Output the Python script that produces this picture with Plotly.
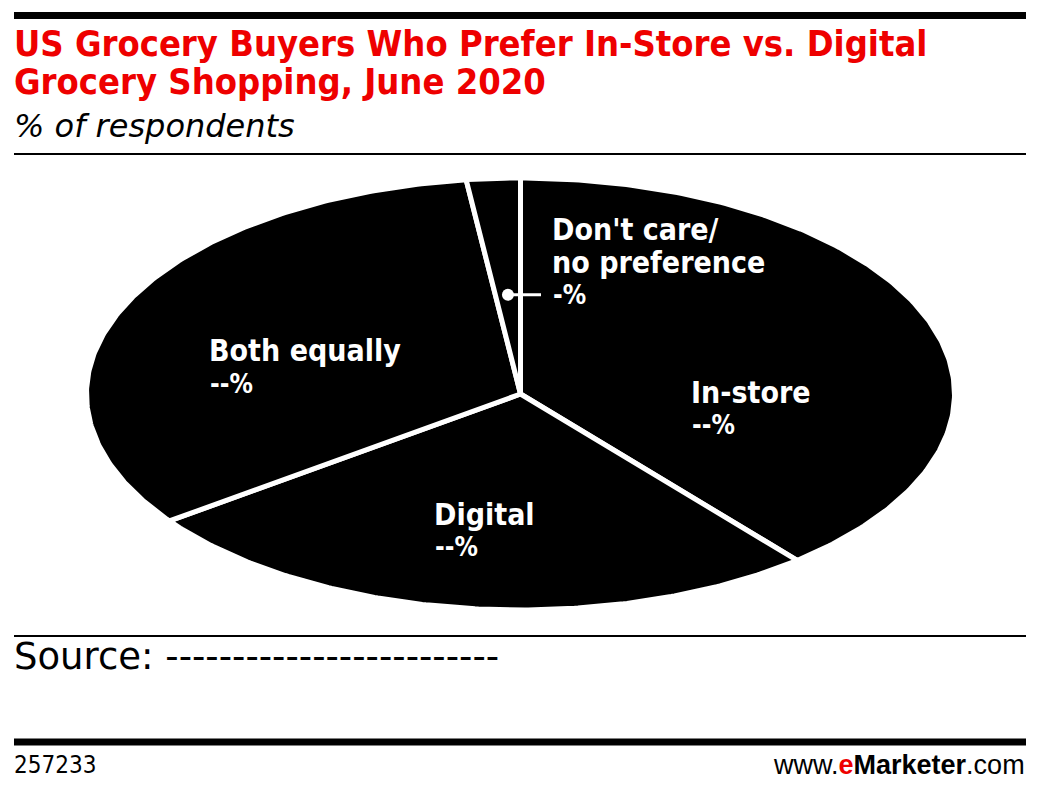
import numpy as np
import plotly.graph_objects as go

# ---- data ----
categories = ["In-store", "Digital", "Both equally", "Don't care/\nno preference"]
values = [39, 26, 33, 2]
value_labels = ["--%", "--%", "--%", "-%"]

title_lines = ["US Grocery Buyers Who Prefer In-Store vs. Digital",
               "Grocery Shopping, June 2020"]
subtitle = "% of respondents"
source = "Source: " + "-" * 25
chart_id = "257233"

W, H = 1039, 791
FONT_C = "DejaVu Sans Condensed, DejaVu Sans"
FONT = "DejaVu Sans"

# pixel geometry of the ellipse
cx, cy = 520.5, 394.0
rx, ry = 434.0, 216.0

# axis ranges so that data unit circle maps onto the ellipse
x0 = -cx / rx
x1 = x0 + W / rx
y1 = cy / ry
y0 = y1 - H / ry


def px(x):
    return x / W


def py(y):
    return 1 - y / H


fig = go.Figure()

total = sum(values)
start = 0.0
mids = []
for cat, v in zip(categories, values):
    ang = v / total * 2 * np.pi
    th = np.linspace(start, start + ang, 200)
    xs = np.concatenate([[0], np.sin(th), [0]])
    ys = np.concatenate([[0], np.cos(th), [0]])
    fig.add_trace(go.Scatter(x=xs, y=ys, fill="toself", fillcolor="black",
                             mode="lines", line=dict(color="white", width=5),
                             name=cat.replace("\n", " "), hoverinfo="name"))
    mids.append(start + ang / 2)
    start += ang

# callout for the small slice
m = mids[3]
r = 0.46
dx, dy = r * np.sin(m), r * np.cos(m)
end_x = (541 - cx) / rx
fig.add_trace(go.Scatter(x=[dx, end_x], y=[dy, dy], mode="lines",
                         line=dict(color="white", width=3), hoverinfo="skip"))
fig.add_trace(go.Scatter(x=[dx], y=[dy], mode="markers",
                         marker=dict(color="white", size=12), hoverinfo="skip"))

annotations = []

# slice labels (pixel positions of label blocks: left x, middle of first line)
label_pos = [(689, 392), (432, 514), (207, 351), (550, 229)]
line_gap = 33
for cat, val, (lx, ly) in zip(categories, value_labels, label_pos):
    lines = cat.split("\n")
    for i, t in enumerate(lines):
        annotations.append(dict(x=px(lx), y=py(ly + i * line_gap), xref="paper", yref="paper",
                                text=f"<b>{t}</b>", showarrow=False, xanchor="left", yanchor="middle",
                                font=dict(family=FONT_C, size=30, color="white")))
    annotations.append(dict(x=px(lx + 1), y=py(ly + len(lines) * line_gap), xref="paper", yref="paper",
                            text=f"<b>{val}</b>", showarrow=False, xanchor="left", yanchor="middle",
                            font=dict(family=FONT_C, size=26, color="white")))

# titles
for i, t in enumerate(title_lines):
    annotations.append(dict(x=px(12), y=py(44 + i * 37), xref="paper", yref="paper",
                            text=f"<b>{t}</b>", showarrow=False, xanchor="left", yanchor="middle",
                            font=dict(family=FONT_C, size=36, color="#ee0000")))
annotations.append(dict(x=px(12), y=py(126), xref="paper", yref="paper",
                        text=f"<i>{subtitle}</i>", showarrow=False, xanchor="left", yanchor="middle",
                        font=dict(family=FONT, size=32, color="black")))
annotations.append(dict(x=px(12), y=py(656), xref="paper", yref="paper",
                        text=source, showarrow=False, xanchor="left", yanchor="middle",
                        font=dict(family=FONT, size=37, color="black")))
annotations.append(dict(x=px(12), y=py(765), xref="paper", yref="paper",
                        text=chart_id, showarrow=False, xanchor="left", yanchor="middle",
                        font=dict(family=FONT_C, size=24, color="black")))
annotations.append(dict(x=px(1027), y=py(765), xref="paper", yref="paper",
                        text="www.<b><span style='color:#ee0000'>e</span>Marketer</b>.com",
                        showarrow=False, xanchor="right", yanchor="middle",
                        font=dict(family="Liberation Sans", size=27, color="black")))

shapes = []
for yy, w in [(15.5, 7), (154, 2), (636, 2), (742, 7)]:
    shapes.append(dict(type="line", xref="paper", yref="paper",
                       x0=px(14), x1=px(1026), y0=py(yy), y1=py(yy),
                       line=dict(color="black", width=w)))

fig.update_layout(
    width=W, height=H, margin=dict(l=0, r=0, t=0, b=0),
    paper_bgcolor="white", plot_bgcolor="white", showlegend=False,
    xaxis=dict(range=[x0, x1], visible=False, fixedrange=True),
    yaxis=dict(range=[y0, y1], visible=False, fixedrange=True),
    annotations=annotations, shapes=shapes,
)

fig.write_html("out.html", config={"displayModeBar": False},
               post_script="document.body.style.margin='0';document.body.style.overflow='hidden';")
